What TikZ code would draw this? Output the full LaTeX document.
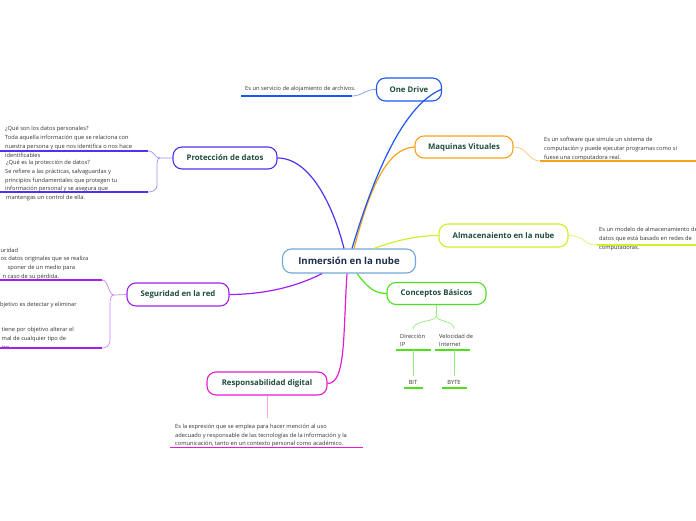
\documentclass[tikz,border=0pt]{standalone}
\usepackage{fontspec}
\newfontfamily\ofont{Open Sans}
\definecolor{cen}{HTML}{6FA8DC}
\definecolor{centxt}{HTML}{1F2D4D}
\definecolor{ttl}{HTML}{1E4D3C}
\definecolor{ntxt}{HTML}{333333}
\definecolor{cod}{HTML}{1E56F0}
\definecolor{cmv}{HTML}{F7A21B}
\definecolor{cpd}{HTML}{5230EE}
\definecolor{csr}{HTML}{A020F0}
\definecolor{crd}{HTML}{E61CCF}
\definecolor{cal}{HTML}{CDF02A}
\definecolor{ccb}{HTML}{4FE01C}
\tikzset{
  topic/.style={rounded corners=9pt, fill=white, line width=1.1pt, text=ttl,
    font=\ofont\bfseries\fontsize{7.8}{9}\selectfont, minimum height=23, inner sep=0},
  note/.style={anchor=base west, inner sep=0, align=left, text=ntxt,
    font=\ofont\fontsize{5.7}{8.8}\selectfont},
  cnote/.style={note, anchor=base},
  branch/.style={line width=1.2pt},
  thin/.style={line width=0.7pt},
  uline/.style={line width=1.5pt},
}
\begin{document}
\begin{tikzpicture}[x=1pt,y=-1pt]
\useasboundingbox (0,0) rectangle (696,520);
\clip (0,0) rectangle (696,520);

% ---------- topics ----------
\node[topic, draw=cen, text=centxt, minimum width=133, minimum height=24,
  font=\ofont\bfseries\fontsize{9.6}{11}\selectfont] (c) at (349,261) {Inmersión en la nube};
\node[topic, draw=cod, minimum width=65] (od) at (409,89.5) {One Drive};
\node[topic, draw=cmv, minimum width=98, minimum height=22] (mv) at (464,147) {Maquinas Vituales};
\node[topic, draw=cpd, minimum width=104, minimum height=22] (pd) at (225,158) {Protección de datos};
\node[topic, draw=cal, minimum width=129] (al) at (503.5,235.5) {Almacenaiento en la nube};
\node[topic, draw=ccb, minimum width=99, minimum height=22] (cb) at (436.5,293.5) {Conceptos Básicos};
\node[topic, draw=csr, minimum width=102] (sr) at (178,294.5) {Seguridad en la red};
\node[topic, draw=crd, minimum width=120] (rd) at (267,383.5) {Responsabilidad digital};

% ---------- notes (anchored at the baseline of their last line) ----------
\node[note] (nod) at (245,90.5) {Es un servicio de alojamiento de archivos.};
\node[note] (nmv) at (544,159.1) {Es un software que simula un sistema de\\computación y puede ejecutar programas como si\\fuese una computadora real.};
\node[note] (npd1) at (5,157) {¿Qué son los datos personales?\\Toda aquella información que se relaciona con\\nuestra persona y que nos identifica o nos hace\\identificables};
\node[note] (npd2) at (5,199.7) {\hspace*{1pt}¿Qué es la protección de datos?\\Se refiere a las prácticas, salvaguardas y\\principios fundamentales que protegen tu\\información personal y se asegura que\\\hspace*{1pt}mantengas un control de ella.};
\node[note] (nal) at (599,249.1) {Es un modelo de almacenamiento de\\datos que está basado en redes de\\computadoras.};
\node[note] (nsr1) at (0.5,278.4) {uridad\\os datos originales que se realiza\\\hspace*{7pt}sponer de un medio para\\\hspace*{2pt}n caso de su pérdida.};
\node[note] (nsr2) at (0,306.5) {bjetivo es detectar y eliminar};
\node[note] (nsr3) at (1.5,349.1) {tiene por objetivo alterar el\\mal de cualquier tipo de\\ico.};
\node[note, font=\ofont\fontsize{5.7}{8.5}\selectfont] (nrd) at (175,445.5) {Es la expresión que se emplea para hacer mención al uso\\adecuado y responsable de las tecnologías de la información y la\\comunicación, tanto en un contexto personal como académico.};
\node[note, font=\ofont\fontsize{5.7}{8}\selectfont] (nip) at (400,346.5) {Dirección\\IP};
\node[note, font=\ofont\fontsize{5.7}{8}\selectfont] (nvi) at (439,346.5) {Velocidad de\\Internet};
\node[cnote] (nbit) at (413,384) {BIT};
\node[cnote] (nbyte) at (454,384) {BYTE};

% ---------- end coordinates ----------
\coordinate (odA) at (352,96);  \coordinate (odB) at (241,96);
\coordinate (mvA) at (540,161); \coordinate (mvB) at (696,161);
\coordinate (pdF) at (160,158);
\coordinate (pd1A) at (148,151); \coordinate (pd1B) at (0,151);
\coordinate (pd2A) at (148,192); \coordinate (pd2B) at (0,192);
\coordinate (srF) at (114,295);
\coordinate (sr1A) at (102,280); \coordinate (sr1B) at (0,280);
\coordinate (sr3A) at (102,348); \coordinate (sr3B) at (0,348);
\coordinate (alA) at (597,245); \coordinate (alB) at (696,245);
\coordinate (rdA) at (267,418); \coordinate (rdL) at (170,447.5); \coordinate (rdR) at (363,447.5);
\coordinate (cbF) at (436.5,316);
\coordinate (ipT) at (413,329); \coordinate (viT) at (454,329);
\coordinate (ipL) at (396,350); \coordinate (ipR) at (431,350);
\coordinate (viL) at (435,350); \coordinate (viR) at (470,350);
\coordinate (ipD) at (413,376); \coordinate (viD) at (454,376);
\coordinate (bitL) at (404,388); \coordinate (bitR) at (423,388);
\coordinate (byL) at (442,388); \coordinate (byR) at (467,388);

% ---------- main branches ----------
\draw[branch, cmv] ([xshift=5]c.north) .. controls (368,195) and (385,148) .. (mv.west);
\draw[branch, cpd] ([xshift=-5]c.north) .. controls (333,205) and (310,158) .. (pd.east);
\draw[branch, cal] ([xshift=25]c.north) .. controls (400,239) and (420,235.5) .. (al.west);
\draw[branch, ccb] ([xshift=8]c.south) .. controls (368,288) and (375,293.5) .. (cb.west);
\draw[branch, csr] ([xshift=-27]c.south) .. controls (290,290) and (255,294.5) .. (sr.east);
\draw[branch, crd] ([xshift=-2]c.south) .. controls (343,335) and (346,383.5) .. (rd.east);
\draw[branch, cod] ([xshift=3]c.north) .. controls (376,168) and (405,105) .. ([xshift=-1]od.east);

% ---------- note connectors ----------
\draw[thin, cod!60] (od.west) .. controls (366,89) and (362,96) .. (odA);
\draw[uline, cod] (odA) -- (odB);
\draw[thin, cmv!60] (mv.east) .. controls (528,147) and (528,161) .. (mvA);
\draw[uline, cmv] (mvA) -- (mvB);
\draw[thin, cpd!55] (pd.west) -- (pdF) .. controls (154,158) and (155,151) .. (pd1A);
\draw[thin, cpd!55] (pdF) .. controls (157,158) and (157,162) .. (157,168) -- (157,185)
   .. controls (157,190) and (153,192) .. (pd2A);
\draw[uline, cpd] (pd1A) -- (pd1B);
\draw[uline, cpd] (pd2A) -- (pd2B);
\draw[thin, csr!55] (sr.west) -- (srF) .. controls (108,295) and (109,280) .. (sr1A);
\draw[thin, csr!55] (srF) .. controls (111,295) and (110,298) .. (110,304) -- (110,340)
   .. controls (110,346) and (106,348) .. (sr3A);
\draw[uline, csr] (sr1A) -- (sr1B);
\draw[uline, csr] (sr3A) -- (sr3B);
\draw[thin, cal!70] (al.east) .. controls (585,235.5) and (583,245) .. (alA);
\draw[uline, cal] (alA) -- (alB);
\draw[thin, crd!40] (rd.south) -- (rdA);
\draw[uline, crd] (rdL) -- (rdR);
\draw[thin, ccb!60] (cb.south) -- (cbF) .. controls (436.5,322) and (413,320) .. (ipT);
\draw[thin, ccb!60] (cbF) .. controls (436.5,322) and (454,320) .. (viT);
\draw[uline, ccb] (ipL) -- (ipR);
\draw[uline, ccb] (viL) -- (viR);
\draw[thin, ccb!60] (413,350) -- (ipD);
\draw[thin, ccb!60] (454,350) -- (viD);
\draw[uline, ccb] (bitL) -- (bitR);
\draw[uline, ccb] (byL) -- (byR);
\end{tikzpicture}
\end{document}
